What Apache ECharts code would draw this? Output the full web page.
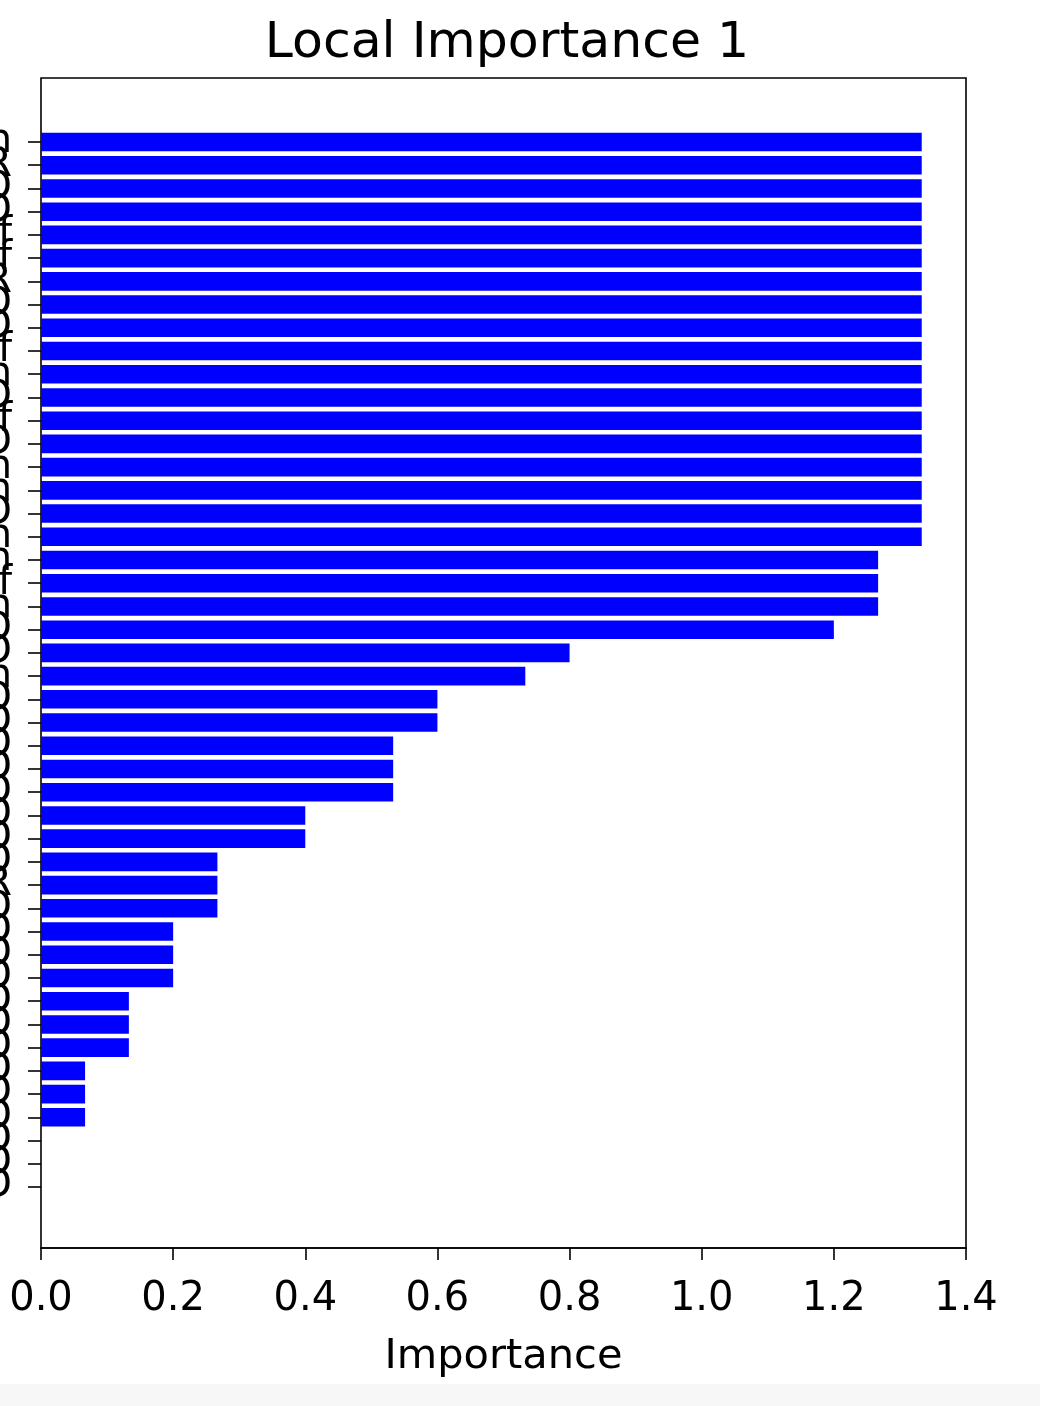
<!DOCTYPE html>
<html>
<head>
<meta charset="utf-8">
<script src="https://cdn.jsdelivr.net/npm/echarts@6/dist/echarts.min.js"></script>
<style>
html,body{margin:0;padding:0;background:#f7f7f7;}
#chart{width:1040px;height:1384px;background:#fff;}
</style>
</head>
<body>
<div id="chart"></div>
<script>
var features = [
  "feature_01_n","feature_02_R","feature_03_D","feature_04_D","feature_05_f","feature_06_f",
  "feature_07_R","feature_08_D","feature_09_D","feature_10_f","feature_11_n","feature_12_D",
  "feature_13_f","feature_14_D","feature_15_n","feature_16_n","feature_17_D","feature_18_n",
  "feature_19_n","feature_20_f","feature_21_n","feature_22_D","feature_23_D","feature_24_n",
  "feature_25_D","feature_26_D","feature_27_D","feature_28_D","feature_29_D","feature_30_D",
  "feature_31_D","feature_32_D","feature_33_R","feature_34_D","feature_35_D","feature_36_D",
  "feature_37_D","feature_38_D","feature_39_D","feature_40_D","feature_41_D","feature_42_D",
  "feature_43_D","feature_44_D","feature_45_D","feature_46_D"
];
var importance = [
  1.333,1.333,1.333,1.333,1.333,1.333,1.333,1.333,1.333,1.333,1.333,1.333,1.333,1.333,1.333,1.333,1.333,1.333,
  1.267,1.267,1.267,
  1.2,
  0.8,
  0.733,
  0.6,0.6,
  0.533,0.533,0.533,
  0.4,0.4,
  0.267,0.267,0.267,
  0.2,0.2,0.2,
  0.133,0.133,0.133,
  0.0667,0.0667,0.0667,
  0,0,0
];
var xTicks = {min: 0, max: 1.4, interval: 0.2};
var titleText = "Local Importance 1";
var xName = "Importance";

var font = "DejaVu Sans";
var chart = echarts.init(document.getElementById('chart'), null, {renderer: 'canvas'});
chart.setOption({
  animation: false,
  title: {
    text: titleText, left: 502, textAlign: 'center', top: 13,
    textStyle: {fontFamily: font, fontSize: 50.5, fontWeight: 'normal', color: '#000'}
  },
  grid: [
    {left: 41, right: 74, top: 78, bottom: 136, show: true, borderColor: '#000', borderWidth: 1.6, backgroundColor: 'transparent', containLabel: false, outerBoundsMode: 'none'},
    {left: 41, right: 74, top: 130.4, height: 1068.2, containLabel: false, outerBoundsMode: 'none'}
  ],
  xAxis: [
    {
      gridIndex: 0, type: 'value', min: xTicks.min, max: xTicks.max, interval: xTicks.interval,
      name: xName, nameLocation: 'middle', nameGap: 88,
      nameTextStyle: {fontFamily: font, fontSize: 41.5, color: '#000'},
      axisLine: {show: true, lineStyle: {color: '#000', width: 1.6}},
      axisTick: {show: true, length: 12, lineStyle: {color: '#000', width: 1.6}},
      axisLabel: {fontFamily: font, fontSize: 40, color: '#000', margin: 32,
        formatter: function (v) { return v.toFixed(1); }},
      splitLine: {show: false}
    },
    {
      gridIndex: 1, type: 'value', min: xTicks.min, max: xTicks.max, show: false
    }
  ],
  yAxis: [
    {gridIndex: 0, type: 'value', min: 0, max: 1, show: false},
    {
      gridIndex: 1, type: 'category', inverse: true, data: features,
      axisLine: {show: false},
      axisTick: {show: true, length: 13, alignWithLabel: true, interval: 0, lineStyle: {color: '#000', width: 1.6}},
      axisLabel: {interval: 0, margin: 29, fontFamily: font, fontSize: 40, color: '#000', hideOverlap: false},
      splitLine: {show: false}
    }
  ],
  series: [{
    type: 'bar', xAxisIndex: 1, yAxisIndex: 1, data: importance,
    barWidth: '80%',
    itemStyle: {color: '#0000ff', borderWidth: 0}
  }]
});
</script>
</body>
</html>
